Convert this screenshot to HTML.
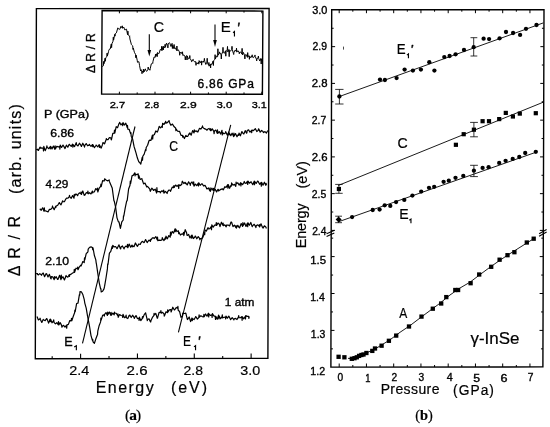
<!DOCTYPE html>
<html><head><meta charset="utf-8"><style>
html,body{margin:0;padding:0;background:#fff;}
body{width:550px;height:427px;overflow:hidden;}
svg{display:block;font-family:"Liberation Sans", sans-serif;filter:grayscale(1);}
svg text{fill:#000;stroke:#000;}
svg line{stroke:#000;}
</style></head><body>
<svg width="550" height="427" viewBox="0 0 550 427">
<path d="M36.4,8.6 L269.1,8.5 L267.9,358.4 L35.3,358.7 Z" fill="none" stroke="#000" stroke-width="1.4"/>
<line x1="52.18" y1="358.68" x2="52.18" y2="356.18" stroke-width="1.1"/>
<line x1="80.6" y1="358.64" x2="80.6" y2="353.64" stroke-width="1.1"/>
<line x1="109.02" y1="358.6" x2="109.02" y2="356.1" stroke-width="1.1"/>
<line x1="137.44" y1="358.57" x2="137.44" y2="353.57" stroke-width="1.1"/>
<line x1="165.86" y1="358.53" x2="165.86" y2="356.03" stroke-width="1.1"/>
<line x1="194.28" y1="358.49" x2="194.28" y2="353.49" stroke-width="1.1"/>
<line x1="222.7" y1="358.46" x2="222.7" y2="355.96" stroke-width="1.1"/>
<line x1="251.12" y1="358.42" x2="251.12" y2="353.42" stroke-width="1.1"/>
<line x1="35.96" y1="149.6" x2="38.46" y2="149.6" stroke-width="1"/>
<line x1="35.57" y1="273.6" x2="38.07" y2="273.6" stroke-width="1"/>
<polyline points="37,148.88 38.4,150.48 39.8,147.47 40.1,147.01 40.4,148.23 41.8,147.91 43.2,148.26 43.5,150.84 43.8,146.45 45.2,150.68 46.6,147.49 46.9,145.82 47.2,147.35 48.6,148.59 50,146.92 50.3,149 50.6,146.24 52,148.89 53.4,146.05 54.8,149.29 55.1,145.76 55.4,148.94 56.8,146.31 58.2,146.87 59.6,146.67 59.9,149.05 60.2,145.07 61.6,147.47 63,145.06 64.4,147.42 64.7,148.14 65,148.55 66.4,145.12 67.8,147.21 69.2,144.32 69.5,144.31 69.8,144.78 71.2,146.43 72.6,144.17 72.9,147.14 73.2,144.73 74.6,146.6 76,143.12 76.3,142.75 76.6,144.68 78,145.94 79.4,143.22 80.8,145.09 81.1,146.03 81.4,146.49 82.8,143.2 84.2,146.1 84.5,147.16 84.8,145.48 86.2,143.59 87.6,145.76 89,145.09 89.3,144.42 89.6,144.95 91,146.4 92.4,144.58 92.7,146.71 93,144.8 94.4,147.73 95.8,145.76 96.1,145.06 96.4,145.33 97.8,146.81 99.2,144.51 99.5,147.43 99.8,145.67 101.2,148.1 102.6,144.23 102.9,142.66 103.2,142.69 104.6,143.82 106,139.9 106.3,138.54 106.6,139.51 108,139.71 109.4,137.64 110.8,137.75 111.1,139.3 111.4,139.83 112.8,133.42 114.2,133.18 114.5,130.02 114.8,133.23 116.2,126.63 117.6,127.66 119,123.5 119.3,123.59 119.6,122.4 121,124.95 122.4,123.46 122.7,125.65 123,122.6 124.4,125.06 125.8,123.16 127.2,127.44 127.5,125.46 127.8,129.1 129.2,129.45 130.6,133.58 130.9,132.67 131.2,136.17 132.6,138.9 134,146.16 134.3,147.33 134.6,148.26 136,152.87 137.4,158.06 138.8,161.84 139.1,161.99 139.4,162.16 140.8,164.11 142.2,157.27 142.5,160.08 142.8,156.24 144.2,154.12 145.6,149.38 145.9,150.67 146.2,147.54 147.6,145.21 149,140.72 149.3,140.45 149.6,140.19 151,140.47 152.4,135.12 152.7,139.07 153,135.39 154.4,134.49 155.8,130.95 157.2,132.07 157.5,131.22 157.8,131.05 159.2,126.39 160.6,127.89 162,126 162.3,127.4 162.6,123.32 164,124.42 165.4,122.08 165.7,121.32 166,123.05 167.4,122.68 168.8,120.98 169.1,120.71 169.4,122.13 170.8,125.21 172.2,124.2 172.5,124.12 172.8,124.64 174.2,126.8 175.6,127.93 175.9,130.72 176.2,129.04 177.6,131.25 179,131.31 179.3,131.44 179.6,131.46 181,135.41 182.4,135.44 182.7,137.12 183,135.75 184.4,138.51 185.8,135.54 186.1,135.44 186.4,136.51 187.8,136.34 189.2,133.6 189.5,134.19 189.8,132.9 191.2,135.18 192.6,130.55 194,132.89 194.3,129.87 194.6,131.71 196,130.83 197.4,131.98 197.7,131.1 198,131.89 199.4,128.38 200.8,129.06 202.2,127.13 202.5,125.8 202.8,127.32 204.2,128.69 205.6,129.05 207,130.22 207.3,129.89 207.6,129.24 209,128.43 210.4,130.5 210.7,128.55 211,130.57 212.4,128.89 213.8,131.49 214.1,133.6 214.4,131.06 215.8,130.08 217.2,133.14 217.5,129.81 217.8,133.47 219.2,131.52 220.6,134.06 222,130.29 222.3,134.98 222.6,132.53 224,133.87 225.4,132.89 225.7,131.63 226,132.61 227.4,135.15 228.8,131.89 229.1,134.85 229.4,133.26 230.8,135.64 232.2,133.16 233.6,136.63 233.9,133.04 234.2,135.99 235.6,133.62 237,136.81 238.4,134.35 238.7,135.34 239,133.06 240.4,135.76 241.8,131.72 242.1,131.69 242.4,132.66 243.8,133.97 245.2,130.66 246.6,133.17 246.9,132.64 247.2,130.51 248.6,129.84 250,132.23 251.4,130.51 251.7,132.7 252,130.04 253.4,130.62 254.8,129.31 255.1,128.99 255.4,128.69 256.8,131.52 258.2,130.39 258.5,128.85 258.8,128.98 260.2,132.14 261.6,130.5 263,131.47 263.3,132.26 263.6,132.64 265,131.58 266.4,133.06 267.8,130.5" fill="none" stroke="#000" stroke-width="1.2" stroke-linejoin="round"/>
<polyline points="39.8,208.74 41.2,210.28 42.6,207.79 44,211.2 44.3,207.86 44.6,210.56 46,211.03 47.4,211.66 47.7,211.61 48,211.97 49.4,209.41 50.8,209.38 52.2,207.77 52.5,205.98 52.8,206.94 54.2,209.72 55.6,206.37 55.9,207.36 56.2,205.87 57.6,205.45 59,203.04 59.3,202.55 59.6,203.24 61,204.85 62.4,201.59 62.7,200.8 63,201.64 64.4,201.75 65.8,198.9 66.1,198.85 66.4,198.17 67.8,198.25 69.2,196.89 69.5,195.28 69.8,196.83 71.2,198.3 72.6,195.55 74,198.12 74.3,194.28 74.6,195.85 76,193.92 77.4,195.47 77.7,195.69 78,194.43 79.4,192.84 80.8,193.87 81.1,191.97 81.4,194.43 82.8,190.94 84.2,195.36 84.5,194.71 84.8,195.21 86.2,192.67 87.6,193.1 87.9,191.17 88.2,193.8 89.6,192.69 91,193.96 92.4,191.07 92.7,192.95 93,191.99 94.4,191.8 95.8,188.54 97.2,190.07 97.5,188.21 97.8,191.96 99.2,188.05 100.6,186.39 100.9,184.22 101.2,186.7 102.6,180.64 104,181.04 104.3,180.92 104.6,178.82 106,179.91 107.4,180.82 108.8,180.28 109.1,179.85 109.4,181.48 110.8,184.77 112.2,187.95 113.6,198.25 113.9,200.69 114.2,200.96 115.6,207.2 117,217.87 118.4,221.9 118.7,221.88 119,221.92 120.4,228.4 121.8,221.97 123.2,220 123.5,215.87 123.8,216.17 125.2,208.05 126.6,201.37 126.9,200.85 127.2,200.37 128.6,189.04 130,185.23 130.3,181.01 130.6,183.73 132,175.85 133.4,175.14 134.8,172.8 135.1,175.9 135.4,173.89 136.8,174.76 138.2,173.84 138.5,178.21 138.8,175.35 140.2,179.46 141.6,178.79 141.9,178.55 142.2,179.76 143.6,183.9 145,183.05 146.4,186.13 146.7,186.98 147,186.36 148.4,187.29 149.8,189.09 150.1,190.81 150.4,191.29 151.8,188.13 153.2,189.74 153.5,190.41 153.8,190.28 155.2,189.16 156.6,193.01 156.9,187.71 157.2,191.65 158.6,191.56 160,191.58 160.3,192.87 160.6,192.17 162,190.77 163.4,191.96 163.7,190.08 164,193.23 165.4,191.4 166.8,192.83 167.1,193.53 167.4,192.17 168.8,190 170.2,190.41 170.5,191.32 170.8,190.64 172.2,187.16 173.6,187.68 173.9,185.61 174.2,187.49 175.6,185.03 177,186.38 178.4,184.96 178.7,188.34 179,184.86 180.4,185.52 181.8,184.24 182.1,181.71 182.4,181.25 183.8,183.55 185.2,182.32 185.5,183.65 185.8,183.06 187.2,184.96 188.6,181.84 190,183.97 190.3,185.36 190.6,183.34 192,182.01 193.4,184.81 193.7,181.79 194,186.04 195.4,184.02 196.8,185.64 198.2,183.21 198.5,185.89 198.8,182.82 200.2,185.32 201.6,183.81 201.9,183.91 202.2,183.93 203.6,186.04 205,185.39 206.4,187.81 206.7,188.77 207,188.91 208.4,187.94 209.8,190.86 210.1,187.82 210.4,191.29 211.8,188.13 213.2,190.49 213.5,188.38 213.8,190.38 215.2,189.42 216.6,191.88 218,189.32 218.3,189.28 218.6,190.91 220,189.87 221.4,189.11 222.8,188.83 223.1,189.85 223.4,189.76 224.8,186.73 226.2,187.34 227.6,184.71 227.9,188.09 228.2,184.56 229.6,188.28 231,185.3 231.3,186.11 231.6,182.96 233,185.15 234.4,184.31 235.8,186.33 236.1,182.02 236.4,183.84 237.8,182.85 239.2,185.09 240.6,182.68 240.9,185.88 241.2,183.17 242.6,184.66 244,182.3 244.3,181.46 244.6,182.91 246,183.32 247.4,181.3 247.7,184.35 248,181.14 249.4,183.16 250.8,182.08 251.1,181.79 251.4,182.37 252.8,184.72 254.2,181.1 254.5,184.67 254.8,181.62 256.2,183.46 257.6,181.04 257.9,181.23 258.2,181.54 259.6,184.31 261,182.52 261.3,186.08 261.6,182.34 263,185.16 264.4,182.25 265.8,185.34 266.1,183.3 266.4,185.21" fill="none" stroke="#000" stroke-width="1.2" stroke-linejoin="round"/>
<polyline points="37,273.81 38.4,274.92 39.8,273.61 41.2,274.74 41.5,275.27 41.8,274.43 43.2,273.02 44.6,276.7 46,273.72 46.3,274.02 46.6,273.62 48,276.95 49.4,274.33 50.8,278.52 51.1,278.78 51.4,276.67 52.8,276.92 54.2,279.74 54.5,276.57 54.8,278.5 56.2,276.72 57.6,279.5 57.9,279.52 58.2,278.74 59.6,275.27 61,279.74 61.3,275.04 61.6,278.32 63,276.77 64.4,279.97 65.8,276.54 66.1,275.47 66.4,276.36 67.8,277.23 69.2,274.67 69.5,276.44 69.8,274.72 71.2,274.13 72.6,272.95 74,272.53 74.3,269.36 74.6,272.43 76,268.17 77.4,268.82 77.7,267.01 78,269.62 79.4,266.84 80.8,265.17 81.1,265.95 81.4,265.34 82.8,261.53 84.2,262.65 84.5,257.95 84.8,259.96 86.2,253.59 87.6,252.2 87.9,251.86 88.2,249.15 89.6,247.24 91,246.92 92.4,247.49 92.7,249.66 93,247.74 94.4,255.54 95.8,259.86 96.1,262.26 96.4,263.76 97.8,273.38 99.2,282.54 100.6,288.93 100.9,288.69 101.2,292 102.6,291.29 104,288.86 104.3,287.58 104.6,286.21 106,277.98 107.4,268.89 107.7,263.93 108,264.48 109.4,253.07 110.8,251.45 112.2,246.25 112.5,248.31 112.8,245.4 114.2,247.01 115.6,246.49 117,248.74 117.3,248.36 117.6,247.45 119,244.89 120.4,248.83 120.7,248.82 121,246.95 122.4,245.94 123.8,248.47 124.1,248.8 124.4,247.61 125.8,246.11 127.2,247.06 127.5,244.4 127.8,247.72 129.2,244.01 130.6,247.2 132,245.03 132.3,246.86 132.6,245.8 134,246.7 135.4,242.98 135.7,243.43 136,244.2 137.4,246.35 138.8,243.96 140.2,244.49 140.5,244.09 140.8,243.05 142.2,241.27 143.6,242.26 143.9,242.63 144.2,242.53 145.6,239.5 147,242.23 147.3,242.64 147.6,241.85 149,240.04 150.4,241.4 150.7,239.23 151,239.88 152.4,237.86 153.8,237.8 154.1,238.59 154.4,238.32 155.8,236.62 157.2,239.67 157.5,237.06 157.8,240.66 159.2,240.19 160.6,240.31 162,239.89 162.3,237.57 162.6,238.46 164,240.55 165.4,237.41 165.7,239.25 166,236.22 167.4,238.75 168.8,235.61 170.2,237.2 170.5,232.02 170.8,235.57 172.2,231.47 173.6,233.15 175,228.94 175.3,231.65 175.6,229.05 177,231.59 178.4,230.82 178.7,233.73 179,232.38 180.4,235.03 181.8,233.86 183.2,234.07 183.5,232.39 183.8,235.53 185.2,229.64 186.6,232.82 186.9,234.67 187.2,235.48 188.6,234.41 190,237.95 191.4,235.46 191.7,238.17 192,234.99 193.4,238.54 194.8,237.08 195.1,236.1 195.4,236.07 196.8,238.75 198.2,236.56 199.6,238.41 199.9,239.99 200.2,238.54 201.6,238.75 203,237.18 204.4,232.66 204.7,234.76 205,230.07 206.4,231.09 207.8,227.9 208.1,227.62 208.4,228.85 209.8,228.66 211.2,226.68 211.5,229.7 211.8,224.76 213.2,227.18 214.6,225.2 216,225.14 216.3,222.65 216.6,225.34 218,223.08 219.4,224.17 219.7,225.49 220,226.6 221.4,222.21 222.8,225.19 223.1,223.04 223.4,225.64 224.8,224.8 226.2,226.84 226.5,225.11 226.8,225 228.2,225.09 229.6,225.93 231,222.02 231.3,222.33 231.6,222.08 233,226.67 234.4,225.16 235.8,227.46 236.1,225.65 236.4,228.1 237.8,225.35 239.2,227.64 239.5,227.86 239.8,227.25 241.2,223.5 242.6,226.41 242.9,222.52 243.2,225.55 244.6,222.94 246,226.46 247.4,223.16 247.7,226.66 248,222.76 249.4,225.2 250.8,222.46 252.2,226.67 252.5,225.9 252.8,225.68 254.2,224.27 255.6,226.67 255.9,227.55 256.2,225.81 257.6,224.87 259,226.01 259.3,224.6 259.6,226.96 261,223.82 262.4,227.16 262.7,227.08 263,228.11 264.4,225.82 265.8,226.98 266.1,227.6 266.4,228.53" fill="none" stroke="#000" stroke-width="1.2" stroke-linejoin="round"/>
<polyline points="37,316.6 38.4,319.96 39.8,319.08 40.1,318.24 40.4,319.39 41.8,322.42 43.2,319.41 43.5,319.64 43.8,320.07 45.2,320.66 46.6,318.71 46.9,318.65 47.2,319.38 48.6,323.15 50,319.31 50.3,321.68 50.6,319.17 52,322.8 53.4,320.89 53.7,319.82 54,322.41 55.4,323.86 56.8,322.73 58.2,324.62 58.5,321.67 58.8,324.89 60.2,322.65 61.6,325.36 61.9,327.18 62.2,326.43 63.6,325.31 65,327.08 66.4,325.26 66.7,328.09 67,324.84 68.4,324.37 69.8,320.55 71.2,320.94 71.5,318.41 71.8,320.77 73.2,316.53 74.6,312.73 74.9,310.05 75.2,311.71 76.6,303.54 78,303.1 79.4,294.54 79.7,295.18 80,291.66 81.4,291.78 82.8,294.43 84.2,299.41 84.5,301.24 84.8,303.12 86.2,308.05 87.6,316.47 87.9,317.81 88.2,319.42 89.6,326.78 91,335.58 92.4,340.36 92.7,339.34 93,341.77 94.4,343.29 95.8,339.07 97.2,335.21 97.5,334.72 97.8,331.2 99.2,325.41 100.6,321.88 100.9,318.1 101.2,320.1 102.6,315.38 104,314.68 104.3,316.08 104.6,314.37 106,312.59 107.4,315.4 107.7,312.05 108,314.36 109.4,312.08 110.8,315.33 111.1,312.26 111.4,315.04 112.8,313.06 114.2,314.75 114.5,312.19 114.8,313.12 116.2,313.27 117.6,315.5 117.9,313.89 118.2,317.28 119.6,314.52 121,315.47 122.4,315.76 122.7,317.5 123,314.33 124.4,317.66 125.8,316.7 126.1,315.18 126.4,317.81 127.8,318.56 129.2,315.33 129.5,315.93 129.8,315.05 131.2,317.51 132.6,315.2 134,317.3 134.3,318.45 134.6,317.57 136,315.55 137.4,318.54 138.8,318.27 139.1,320.48 139.4,317.2 140.8,320.6 142.2,318.71 142.5,316.71 142.8,318.13 144.2,314.62 145.6,312.83 147,318.9 147.3,320.55 147.6,319.49 149,318.84 150.4,321.85 150.7,321.99 151,320.42 152.4,317.42 153.8,315.72 154.1,313.3 154.4,314.84 155.8,313.34 157.2,318.14 157.5,318.25 157.8,316.94 159.2,312.24 160.6,312.45 160.9,310.49 161.2,313.18 162.6,312.28 164,313.98 164.3,316.06 164.6,315.43 166,311.78 167.4,312.66 167.7,309.94 168,312.05 169.4,309.86 170.8,309.49 171.1,312.01 171.4,311.21 172.8,307.21 174.2,309.74 174.5,309.98 174.8,309.79 176.2,307.45 177.6,308.33 177.9,306.27 178.2,310.29 179.6,311.54 181,317.38 182.4,316.19 182.7,313.64 183,313.16 184.4,313.51 185.8,313.08 187.2,318.91 187.5,319.54 187.8,319.14 189.2,316.98 190.6,321.56 192,317.98 192.3,320.63 192.6,318.67 194,319.62 195.4,317.27 195.7,316.59 196,316.9 197.4,319.05 198.8,317.66 199.1,314.78 199.4,317.13 200.8,315.78 202.2,316.6 203.6,316.92 203.9,314.34 204.2,316.74 205.6,313.95 207,316.2 208.4,313.22 208.7,316.9 209,313.93 210.4,315.44 211.8,314.69 212.1,317.41 212.4,313.53 213.8,315.9 215.2,316.38 215.5,319.38 215.8,316.23 217.2,319.32 218.6,315.1 218.9,318.82 219.2,316.11 220.6,318.72 222,316.71 222.3,314.85 222.6,317.85 224,317.31 225.4,317.01 225.7,318.95 226,316.18 227.4,318.18 228.8,316.14 230.2,318.69 230.5,319.68 230.8,319.42 232.2,317.69 233.6,319.34 233.9,319.92 234.2,318.74 235.6,318.46 237,319.5 238.4,317.17 238.7,315.66 239,317.57 240.4,317.78 241.8,316.59 242.1,320.32 242.4,316.97 243.8,318.8 245.2,316.44 245.5,318.84 245.8,315.53 247.2,316.45 248.6,316.45 248.9,318.41 249.2,316.41" fill="none" stroke="#000" stroke-width="1.2" stroke-linejoin="round"/>
<line x1="135" y1="126.5" x2="82.5" y2="343.3" stroke-width="1.1"/>
<line x1="230.7" y1="124.8" x2="178.4" y2="332.4" stroke-width="1.1"/>
<path d="M102.1,10.5 L262.9,11.1 L262.4,94.3 L101.6,94.1 Z" fill="#fff" stroke="#000" stroke-width="1.4"/>
<line x1="119.4" y1="94.2" x2="119.4" y2="91.7" stroke-width="1"/>
<line x1="119.4" y1="10.8" x2="119.4" y2="13.3" stroke-width="1"/>
<line x1="137.2" y1="94.2" x2="137.2" y2="92.4" stroke-width="1"/>
<line x1="137.2" y1="10.8" x2="137.2" y2="12.6" stroke-width="1"/>
<line x1="155" y1="94.2" x2="155" y2="91.7" stroke-width="1"/>
<line x1="155" y1="10.8" x2="155" y2="13.3" stroke-width="1"/>
<line x1="172.8" y1="94.2" x2="172.8" y2="92.4" stroke-width="1"/>
<line x1="172.8" y1="10.8" x2="172.8" y2="12.6" stroke-width="1"/>
<line x1="190.6" y1="94.2" x2="190.6" y2="91.7" stroke-width="1"/>
<line x1="190.6" y1="10.8" x2="190.6" y2="13.3" stroke-width="1"/>
<line x1="208.4" y1="94.2" x2="208.4" y2="92.4" stroke-width="1"/>
<line x1="208.4" y1="10.8" x2="208.4" y2="12.6" stroke-width="1"/>
<line x1="226.2" y1="94.2" x2="226.2" y2="91.7" stroke-width="1"/>
<line x1="226.2" y1="10.8" x2="226.2" y2="13.3" stroke-width="1"/>
<line x1="244" y1="94.2" x2="244" y2="92.4" stroke-width="1"/>
<line x1="244" y1="10.8" x2="244" y2="12.6" stroke-width="1"/>
<line x1="261.8" y1="94.2" x2="261.8" y2="91.7" stroke-width="1"/>
<line x1="261.8" y1="10.8" x2="261.8" y2="13.3" stroke-width="1"/>
<polyline points="102.3,66.55 103.4,65.77 103.7,61.36 104,63.73 105.1,58.12 105.4,61.28 105.7,57.74 106.8,56.85 107.1,53.13 107.4,55.96 108.5,51.69 108.8,50.24 109.1,49.5 110.2,48.98 111.3,43.96 111.6,47.63 111.9,43.79 113,41.25 113.3,37.16 113.6,40.1 114.7,34.41 115,36.16 115.3,33.61 116.4,32.86 117.5,29 117.8,27.85 118.1,28.38 119.2,29.39 119.5,29.32 119.8,29.33 120.9,26.34 122,27.84 122.3,25.82 122.6,28.32 123.7,27.04 124.8,29.92 125.1,30.12 125.4,29.48 126.5,29.13 127.6,34.72 127.9,31.12 128.2,34.96 129.3,36.06 129.6,35.76 129.9,38.99 131,42.99 131.3,44.32 131.6,44.9 132.7,45.85 133,49.48 133.3,48.1 134.4,52.31 135.5,54.3 135.8,57.74 136.1,55.1 137.2,60.19 137.5,62.35 137.8,62.07 138.9,61.66 139.2,63.21 139.5,65.32 140.6,70.96 141.7,69.67 142,73.7 142.3,71.08 143.4,72.51 143.7,69.03 144,71.96 145.1,69.55 145.4,68.85 145.7,70.42 146.8,71.32 147.9,69.36 148.2,67 148.5,69.22 149.6,69.37 149.9,70.27 150.2,68.77 151.3,63.89 152.4,63.07 152.7,63.48 153,61.29 154.1,56.99 155.2,57.33 155.5,54.23 155.8,56.35 156.9,53.64 157.2,56.66 157.5,52.5 158.6,53.68 158.9,53.65 159.2,52.94 160.3,49.4 161.4,50.16 161.7,46.29 162,50.62 163.1,46.38 163.4,49.92 163.7,46.49 164.8,47.81 165.1,44.31 165.4,47.26 166.5,43.09 167.6,45.51 167.9,47.92 168.2,43.88 169.3,42.64 169.6,42.83 169.9,43.41 171,46.56 172.1,43.36 172.4,48.5 172.7,45.3 173.8,48.61 174.1,44.49 174.4,48.33 175.5,47.97 176.6,50.54 176.9,46.03 177.2,50.48 178.3,49.78 179.4,51.84 179.7,55.26 180,53.1 181.1,52.1 182.2,53.97 182.5,51.8 182.8,55.48 183.9,54.87 185,56.78 185.3,59.95 185.6,56.73 186.7,55.49 187,60.01 187.3,56.04 188.4,58.86 189.5,58.18 189.8,55.54 190.1,58.85 191.2,60.01 191.5,61.69 191.8,61.66 192.9,59.41 193.2,59.33 193.5,60.6 194.6,61.85 195.7,61.56 196,65.35 196.3,62.65 197.4,63.88 198.5,62.03 198.8,64.17 199.1,60.59 200.2,62.86 201.3,60.89 201.6,65.13 201.9,61.14 203,62.44 204.1,60.41 204.4,58.36 204.7,61.18 205.8,64.48 206.9,62.17 207.2,58.28 207.5,62.9 208.6,65.31 208.9,62.46 209.2,66.2 210.3,64.16 210.6,67.97 210.9,63.93 212,64.4 213.1,60.96 213.4,65.49 213.7,60.5 214.8,59.55 215.1,54.68 215.4,58.88 216.5,56.02 217.6,56.74 217.9,48.77 218.2,55.15 219.3,53.27 219.6,51.88 219.9,53.67 221,53.77 221.3,59 221.6,54.42 222.7,51.85 223,47.35 223.3,52.45 224.4,53.26 225.5,50.78 225.8,56.19 226.1,51.1 227.2,50.09 227.5,46.44 227.8,52.04 228.9,49.48 229.2,56.63 229.5,50.44 230.6,51.12 231.7,49.39 232,46.32 232.3,49.56 233.4,53.37 233.7,54.49 234,52.18 235.1,50.13 236.2,51.36 236.5,48.14 236.8,52.13 237.9,50.66 239,52.48 239.3,53.75 239.6,52.12 240.7,52.01 241.8,53.86 242.1,48.38 242.4,54.93 243.5,52.46 244.6,55.93 244.9,58.95 245.2,54.87 246.3,54.7 247.4,57.39 247.7,52.62 248,56.6 249.1,55.67 249.4,59.32 249.7,56.23 250.8,57.79 251.9,55.58 252.2,54.8 252.5,57.16 253.6,57.63 254.7,55.7 255,54.95 255.3,56.66 256.4,59.1 256.7,60.87 257,58.59 258.1,57.93 258.4,56 258.7,58.4 259.8,61.04 260.9,58.39 261.2,64.02 261.5,58.9" fill="none" stroke="#000" stroke-width="1" stroke-linejoin="round"/>
<line x1="149.3" y1="34.3" x2="149.3" y2="51" stroke-width="1.1"/>
<path d="M147.5,50 L151.1,50 L149.3,56.5 Z" fill="#000"/>
<line x1="215" y1="24.4" x2="215" y2="41" stroke-width="1.1"/>
<path d="M213.2,40 L216.8,40 L215,47 Z" fill="#000"/>
<path d="M331.7,9.6 L544,9.8 L542.9,366.9 L330.9,367.1 Z" fill="none" stroke="#000" stroke-width="1.4"/>
<line x1="339.2" y1="367" x2="339.2" y2="363.5" stroke-width="1"/>
<line x1="339.2" y1="9.7" x2="339.2" y2="13.2" stroke-width="1"/>
<line x1="352.82" y1="367" x2="352.82" y2="365" stroke-width="1"/>
<line x1="352.82" y1="9.7" x2="352.82" y2="11.7" stroke-width="1"/>
<line x1="366.45" y1="367" x2="366.45" y2="363.5" stroke-width="1"/>
<line x1="366.45" y1="9.7" x2="366.45" y2="13.2" stroke-width="1"/>
<line x1="380.07" y1="367" x2="380.07" y2="365" stroke-width="1"/>
<line x1="380.07" y1="9.7" x2="380.07" y2="11.7" stroke-width="1"/>
<line x1="393.7" y1="367" x2="393.7" y2="363.5" stroke-width="1"/>
<line x1="393.7" y1="9.7" x2="393.7" y2="13.2" stroke-width="1"/>
<line x1="407.32" y1="367" x2="407.32" y2="365" stroke-width="1"/>
<line x1="407.32" y1="9.7" x2="407.32" y2="11.7" stroke-width="1"/>
<line x1="420.95" y1="367" x2="420.95" y2="363.5" stroke-width="1"/>
<line x1="420.95" y1="9.7" x2="420.95" y2="13.2" stroke-width="1"/>
<line x1="434.57" y1="367" x2="434.57" y2="365" stroke-width="1"/>
<line x1="434.57" y1="9.7" x2="434.57" y2="11.7" stroke-width="1"/>
<line x1="448.2" y1="367" x2="448.2" y2="363.5" stroke-width="1"/>
<line x1="448.2" y1="9.7" x2="448.2" y2="13.2" stroke-width="1"/>
<line x1="461.82" y1="367" x2="461.82" y2="365" stroke-width="1"/>
<line x1="461.82" y1="9.7" x2="461.82" y2="11.7" stroke-width="1"/>
<line x1="475.45" y1="367" x2="475.45" y2="363.5" stroke-width="1"/>
<line x1="475.45" y1="9.7" x2="475.45" y2="13.2" stroke-width="1"/>
<line x1="489.07" y1="367" x2="489.07" y2="365" stroke-width="1"/>
<line x1="489.07" y1="9.7" x2="489.07" y2="11.7" stroke-width="1"/>
<line x1="502.7" y1="367" x2="502.7" y2="363.5" stroke-width="1"/>
<line x1="502.7" y1="9.7" x2="502.7" y2="13.2" stroke-width="1"/>
<line x1="516.33" y1="367" x2="516.33" y2="365" stroke-width="1"/>
<line x1="516.33" y1="9.7" x2="516.33" y2="11.7" stroke-width="1"/>
<line x1="529.95" y1="367" x2="529.95" y2="363.5" stroke-width="1"/>
<line x1="529.95" y1="9.7" x2="529.95" y2="13.2" stroke-width="1"/>
<line x1="331.66" y1="28.27" x2="333.66" y2="28.27" stroke-width="1"/>
<line x1="543.94" y1="28.27" x2="541.94" y2="28.27" stroke-width="1"/>
<line x1="331.62" y1="46.65" x2="335.12" y2="46.65" stroke-width="1"/>
<line x1="543.89" y1="46.65" x2="540.39" y2="46.65" stroke-width="1"/>
<line x1="331.58" y1="65.02" x2="333.58" y2="65.02" stroke-width="1"/>
<line x1="543.83" y1="65.02" x2="541.83" y2="65.02" stroke-width="1"/>
<line x1="331.53" y1="83.4" x2="335.03" y2="83.4" stroke-width="1"/>
<line x1="543.77" y1="83.4" x2="540.27" y2="83.4" stroke-width="1"/>
<line x1="331.49" y1="101.78" x2="333.49" y2="101.78" stroke-width="1"/>
<line x1="543.72" y1="101.78" x2="541.72" y2="101.78" stroke-width="1"/>
<line x1="331.45" y1="120.15" x2="334.95" y2="120.15" stroke-width="1"/>
<line x1="543.66" y1="120.15" x2="540.16" y2="120.15" stroke-width="1"/>
<line x1="331.41" y1="138.52" x2="333.41" y2="138.52" stroke-width="1"/>
<line x1="543.6" y1="138.52" x2="541.6" y2="138.52" stroke-width="1"/>
<line x1="331.37" y1="156.9" x2="334.87" y2="156.9" stroke-width="1"/>
<line x1="543.55" y1="156.9" x2="540.05" y2="156.9" stroke-width="1"/>
<line x1="331.33" y1="175.27" x2="333.33" y2="175.27" stroke-width="1"/>
<line x1="543.49" y1="175.27" x2="541.49" y2="175.27" stroke-width="1"/>
<line x1="331.29" y1="193.65" x2="334.79" y2="193.65" stroke-width="1"/>
<line x1="543.43" y1="193.65" x2="539.93" y2="193.65" stroke-width="1"/>
<line x1="331.25" y1="212.02" x2="333.25" y2="212.02" stroke-width="1"/>
<line x1="543.38" y1="212.02" x2="541.38" y2="212.02" stroke-width="1"/>
<line x1="331.21" y1="230.4" x2="334.71" y2="230.4" stroke-width="1"/>
<line x1="543.32" y1="230.4" x2="539.82" y2="230.4" stroke-width="1"/>
<line x1="330.94" y1="348.85" x2="332.94" y2="348.85" stroke-width="1"/>
<line x1="542.96" y1="348.85" x2="540.96" y2="348.85" stroke-width="1"/>
<line x1="330.98" y1="330.4" x2="334.48" y2="330.4" stroke-width="1"/>
<line x1="543.01" y1="330.4" x2="539.51" y2="330.4" stroke-width="1"/>
<line x1="331.02" y1="311.95" x2="333.02" y2="311.95" stroke-width="1"/>
<line x1="543.07" y1="311.95" x2="541.07" y2="311.95" stroke-width="1"/>
<line x1="331.06" y1="293.5" x2="334.56" y2="293.5" stroke-width="1"/>
<line x1="543.13" y1="293.5" x2="539.63" y2="293.5" stroke-width="1"/>
<line x1="331.11" y1="275.05" x2="333.11" y2="275.05" stroke-width="1"/>
<line x1="543.18" y1="275.05" x2="541.18" y2="275.05" stroke-width="1"/>
<line x1="331.15" y1="256.6" x2="334.65" y2="256.6" stroke-width="1"/>
<line x1="543.24" y1="256.6" x2="539.74" y2="256.6" stroke-width="1"/>
<line x1="331.19" y1="238.15" x2="333.19" y2="238.15" stroke-width="1"/>
<line x1="543.3" y1="238.15" x2="541.3" y2="238.15" stroke-width="1"/>
<line x1="326.6" y1="233.7" x2="334.6" y2="230.3" stroke-width="1.1"/>
<line x1="326.6" y1="236.4" x2="334.3" y2="233.1" stroke-width="1.1"/>
<line x1="539.1" y1="233.7" x2="546.6" y2="229.5" stroke-width="1.1"/>
<line x1="539.1" y1="236.3" x2="546.6" y2="232" stroke-width="1.1"/>
<rect x="343" y="46.6" width="1" height="3" fill="#000" opacity="0.7"/>
<line x1="339.4" y1="96.5" x2="543.3" y2="22.9" stroke-width="0.9"/>
<line x1="339.4" y1="89.4" x2="339.4" y2="104" stroke-width="0.8"/>
<line x1="335.2" y1="89.4" x2="343.5" y2="89.4" stroke-width="0.8"/>
<line x1="335.2" y1="104" x2="343.5" y2="104" stroke-width="0.8"/>
<line x1="473.7" y1="37.7" x2="473.7" y2="56" stroke-width="0.8"/>
<line x1="470.5" y1="37.7" x2="477.3" y2="37.7" stroke-width="0.8"/>
<line x1="470.5" y1="56" x2="477.3" y2="56" stroke-width="0.8"/>
<circle cx="339.4" cy="96.5" r="2.15" fill="#000"/>
<circle cx="380" cy="79.6" r="2.15" fill="#000"/>
<circle cx="384.9" cy="80" r="2.15" fill="#000"/>
<circle cx="396.6" cy="78.1" r="2.15" fill="#000"/>
<circle cx="404.6" cy="69.6" r="2.15" fill="#000"/>
<circle cx="412.9" cy="70.6" r="2.15" fill="#000"/>
<circle cx="420.9" cy="69.6" r="2.15" fill="#000"/>
<circle cx="429.3" cy="62.2" r="2.15" fill="#000"/>
<circle cx="434.4" cy="70.6" r="2.15" fill="#000"/>
<circle cx="444.3" cy="57.1" r="2.15" fill="#000"/>
<circle cx="449.6" cy="56" r="2.15" fill="#000"/>
<circle cx="455.6" cy="54.3" r="2.15" fill="#000"/>
<circle cx="464" cy="50" r="2.15" fill="#000"/>
<circle cx="473.7" cy="47.2" r="2.15" fill="#000"/>
<circle cx="483.6" cy="38.7" r="2.15" fill="#000"/>
<circle cx="489.1" cy="39.1" r="2.15" fill="#000"/>
<circle cx="499.6" cy="38.3" r="2.15" fill="#000"/>
<circle cx="506" cy="32" r="2.15" fill="#000"/>
<circle cx="513.1" cy="33" r="2.15" fill="#000"/>
<circle cx="520.1" cy="34.9" r="2.15" fill="#000"/>
<circle cx="526" cy="28.8" r="2.15" fill="#000"/>
<circle cx="536.5" cy="25" r="2.15" fill="#000"/>
<line x1="338.2" y1="185.5" x2="543" y2="102.3" stroke-width="0.9"/>
<line x1="338.9" y1="184.4" x2="338.9" y2="193.3" stroke-width="0.8"/>
<line x1="335.2" y1="184.4" x2="342.7" y2="184.4" stroke-width="0.8"/>
<line x1="335.2" y1="193.3" x2="342.7" y2="193.3" stroke-width="0.8"/>
<line x1="473.9" y1="122.4" x2="473.9" y2="136.8" stroke-width="0.8"/>
<line x1="470.1" y1="122.4" x2="477.9" y2="122.4" stroke-width="0.8"/>
<line x1="470.1" y1="136.8" x2="477.9" y2="136.8" stroke-width="0.8"/>
<rect x="336.8" y="186.9" width="4.2" height="4.2" fill="#000"/>
<rect x="453.8" y="142.7" width="4.2" height="4.2" fill="#000"/>
<rect x="461.6" y="132.1" width="4.2" height="4.2" fill="#000"/>
<rect x="471.8" y="127.6" width="4.2" height="4.2" fill="#000"/>
<rect x="480.5" y="119.1" width="4.2" height="4.2" fill="#000"/>
<rect x="486.9" y="119.1" width="4.2" height="4.2" fill="#000"/>
<rect x="497.1" y="117" width="4.2" height="4.2" fill="#000"/>
<rect x="503.7" y="110.8" width="4.2" height="4.2" fill="#000"/>
<rect x="510.8" y="114.4" width="4.2" height="4.2" fill="#000"/>
<rect x="517.7" y="111.5" width="4.2" height="4.2" fill="#000"/>
<rect x="533.7" y="111.1" width="4.2" height="4.2" fill="#000"/>
<line x1="338.4" y1="221.8" x2="535.8" y2="152.3" stroke-width="0.9"/>
<line x1="338.4" y1="216.2" x2="338.4" y2="222.7" stroke-width="0.8"/>
<line x1="335.2" y1="216.2" x2="342" y2="216.2" stroke-width="0.8"/>
<line x1="335.2" y1="222.7" x2="342" y2="222.7" stroke-width="0.8"/>
<line x1="473.9" y1="165.3" x2="473.9" y2="176.6" stroke-width="0.8"/>
<line x1="470.1" y1="165.3" x2="477.9" y2="165.3" stroke-width="0.8"/>
<line x1="470.1" y1="176.6" x2="477.9" y2="176.6" stroke-width="0.8"/>
<path d="M338.6,216.6 L341.6,219.5 L338.6,222.4 L335.6,219.5 Z" fill="#000"/>
<circle cx="352.1" cy="217.1" r="2.15" fill="#000"/>
<circle cx="372.7" cy="210" r="2.15" fill="#000"/>
<circle cx="379.6" cy="209.6" r="2.15" fill="#000"/>
<circle cx="384.7" cy="205.3" r="2.15" fill="#000"/>
<circle cx="390.3" cy="205.9" r="2.15" fill="#000"/>
<circle cx="396.1" cy="202.1" r="2.15" fill="#000"/>
<circle cx="404.3" cy="199.9" r="2.15" fill="#000"/>
<circle cx="412.4" cy="195.6" r="2.15" fill="#000"/>
<circle cx="421.2" cy="191.6" r="2.15" fill="#000"/>
<circle cx="429" cy="187.8" r="2.15" fill="#000"/>
<circle cx="434.2" cy="186.8" r="2.15" fill="#000"/>
<circle cx="443.6" cy="181.8" r="2.15" fill="#000"/>
<circle cx="448.8" cy="180.7" r="2.15" fill="#000"/>
<circle cx="455.5" cy="177.8" r="2.15" fill="#000"/>
<circle cx="463.3" cy="175.9" r="2.15" fill="#000"/>
<circle cx="473.9" cy="170.7" r="2.15" fill="#000"/>
<circle cx="482.6" cy="167.9" r="2.15" fill="#000"/>
<circle cx="488.6" cy="167.2" r="2.15" fill="#000"/>
<circle cx="499.2" cy="162.9" r="2.15" fill="#000"/>
<circle cx="505.6" cy="160.8" r="2.15" fill="#000"/>
<circle cx="512.7" cy="158.9" r="2.15" fill="#000"/>
<circle cx="519.3" cy="157" r="2.15" fill="#000"/>
<circle cx="525.2" cy="153" r="2.15" fill="#000"/>
<circle cx="535.8" cy="151.8" r="2.15" fill="#000"/>
<polyline points="348,358.3 352,358.9 356,357.6 360,355.6 366,353 372,350.5 378,347.2 384,343.5 390,339.8 400,332.3 410,325.6 420,318 430,310.6 440,303.2 450,295 460,288 470,282.2 480,274.6 490,267.2 500,260.2 510,253.6 520,247.3 533.7,238.7" fill="none" stroke="#000" stroke-width="0.9"/>
<rect x="336.45" y="354.65" width="4.3" height="4.3" fill="#000"/>
<rect x="342.25" y="355.15" width="4.3" height="4.3" fill="#000"/>
<rect x="349.65" y="356.65" width="4.3" height="4.3" fill="#000"/>
<rect x="352.35" y="356.05" width="4.3" height="4.3" fill="#000"/>
<rect x="354.65" y="355.15" width="4.3" height="4.3" fill="#000"/>
<rect x="356.95" y="353.75" width="4.3" height="4.3" fill="#000"/>
<rect x="359.25" y="352.85" width="4.3" height="4.3" fill="#000"/>
<rect x="361.35" y="352.35" width="4.3" height="4.3" fill="#000"/>
<rect x="364.25" y="350.85" width="4.3" height="4.3" fill="#000"/>
<rect x="370.15" y="348.75" width="4.3" height="4.3" fill="#000"/>
<rect x="372.85" y="346.35" width="4.3" height="4.3" fill="#000"/>
<rect x="379.45" y="343.55" width="4.3" height="4.3" fill="#000"/>
<rect x="386.75" y="338.65" width="4.3" height="4.3" fill="#000"/>
<rect x="394.05" y="333.45" width="4.3" height="4.3" fill="#000"/>
<rect x="406.85" y="324.35" width="4.3" height="4.3" fill="#000"/>
<rect x="419.35" y="314.45" width="4.3" height="4.3" fill="#000"/>
<rect x="430.65" y="306.55" width="4.3" height="4.3" fill="#000"/>
<rect x="439.05" y="301.35" width="4.3" height="4.3" fill="#000"/>
<rect x="444.15" y="294.95" width="4.3" height="4.3" fill="#000"/>
<rect x="453.15" y="287.85" width="4.3" height="4.3" fill="#000"/>
<rect x="455.95" y="287.85" width="4.3" height="4.3" fill="#000"/>
<rect x="468.45" y="281.05" width="4.3" height="4.3" fill="#000"/>
<rect x="477.05" y="272.35" width="4.3" height="4.3" fill="#000"/>
<rect x="489.05" y="264.65" width="4.3" height="4.3" fill="#000"/>
<rect x="497.45" y="257.55" width="4.3" height="4.3" fill="#000"/>
<rect x="505.35" y="253.05" width="4.3" height="4.3" fill="#000"/>
<rect x="512.25" y="250.05" width="4.3" height="4.3" fill="#000"/>
<rect x="524.65" y="240.35" width="4.3" height="4.3" fill="#000"/>
<rect x="531.55" y="236.55" width="4.3" height="4.3" fill="#000"/>
<text x="69.38" y="374.98" font-size="13.2" textLength="20" lengthAdjust="spacingAndGlyphs" stroke-width="0.2">2.4</text>
<text x="126.55" y="374.98" font-size="13.2" textLength="21" lengthAdjust="spacingAndGlyphs" stroke-width="0.2">2.6</text>
<text x="183.5" y="374.98" font-size="13.2" textLength="19.4" lengthAdjust="spacingAndGlyphs" stroke-width="0.2">2.8</text>
<text x="240.35" y="374.67" font-size="13.2" textLength="20" lengthAdjust="spacingAndGlyphs" stroke-width="0.2">3.0</text>
<text x="95.65" y="393.35" font-size="16" textLength="58" lengthAdjust="spacing" stroke-width="0.2">Energy</text>
<text x="170.9" y="392.85" font-size="16" textLength="36.2" lengthAdjust="spacing" stroke-width="0.2">(eV)</text>
<text x="125.05" y="419.62" font-size="15.37" textLength="16" lengthAdjust="spacing" font-family='"Liberation Serif", serif' stroke-width="0.2">(<tspan font-weight="bold">a</tspan>)</text>
<text x="20.28" y="276.15" font-size="16" textLength="60.2" lengthAdjust="spacing" transform="rotate(-90 20.28 276.15)" stroke-width="0.2">&#916; R / R</text>
<text x="20.52" y="193.95" font-size="16" textLength="89.8" lengthAdjust="spacing" transform="rotate(-90 20.52 193.95)" stroke-width="0.2">(arb. units)</text>
<text x="44.1" y="117.64" font-size="10.5" textLength="45" lengthAdjust="spacingAndGlyphs" stroke-width="0.35">P (GPa)</text>
<text x="50.29" y="137.01" font-size="11.5" textLength="23.8" lengthAdjust="spacingAndGlyphs" stroke-width="0.35">6.86</text>
<text x="45.45" y="188.28" font-size="11" textLength="23" lengthAdjust="spacingAndGlyphs" stroke-width="0.35">4.29</text>
<text x="45.29" y="265.07" font-size="11.5" textLength="23.8" lengthAdjust="spacingAndGlyphs" stroke-width="0.35">2.10</text>
<text x="224.87" y="306.14" font-size="11" textLength="29.6" lengthAdjust="spacingAndGlyphs" stroke-width="0.35">1 atm</text>
<text x="169.24" y="150.61" font-size="14" textLength="8.8" lengthAdjust="spacingAndGlyphs" stroke-width="0.2">C</text>
<text x="64.34" y="345.88" font-size="12.5" textLength="8.4" lengthAdjust="spacingAndGlyphs" stroke-width="0.35">E</text>
<path d="M74.2,347 L76.35,345.8 L76.35,350.2" fill="none" stroke="#000" stroke-width="1.15" stroke-linejoin="miter"/>
<text x="183.1" y="346.33" font-size="13.88" textLength="8" lengthAdjust="spacingAndGlyphs" stroke-width="0.2">E</text>
<path d="M194,346.9 L195.55,345.7 L195.55,350.2" fill="none" stroke="#000" stroke-width="1.15" stroke-linejoin="miter"/>
<text x="109.68" y="107.88" font-size="9.8" textLength="15.5" lengthAdjust="spacingAndGlyphs" stroke-width="0.35">2.7</text>
<text x="144.44" y="108.1" font-size="9.8" textLength="14.8" lengthAdjust="spacingAndGlyphs" stroke-width="0.35">2.8</text>
<text x="179.96" y="107.84" font-size="9.8" textLength="16.8" lengthAdjust="spacingAndGlyphs" stroke-width="0.35">2.9</text>
<text x="216.51" y="107.66" font-size="9.8" textLength="15.9" lengthAdjust="spacingAndGlyphs" stroke-width="0.35">3.0</text>
<text x="251.72" y="107.76" font-size="9.8" textLength="15.1" lengthAdjust="spacingAndGlyphs" stroke-width="0.35">3.1</text>
<text x="153.68" y="32.07" font-size="14.77" textLength="10.3" lengthAdjust="spacingAndGlyphs" stroke-width="0.2">C</text>
<text x="220.75" y="32.15" font-size="13.8" textLength="10" lengthAdjust="spacingAndGlyphs" stroke-width="0.2">E</text>
<path d="M233.1,32.7 L234.45,31.5 L234.45,36.4" fill="none" stroke="#000" stroke-width="1.15" stroke-linejoin="miter"/>
<text x="197.38" y="88.22" font-size="12" textLength="56.5" lengthAdjust="spacing" stroke-width="0.35">6.86 GPa</text>
<text x="95.16" y="73.09" font-size="12" textLength="39.8" lengthAdjust="spacing" transform="rotate(-90 95.16 73.09)" stroke-width="0.35">&#916; R / R</text>
<text x="312.25" y="13.82" font-size="10.4" textLength="15.2" lengthAdjust="spacingAndGlyphs" stroke-width="0.35">3.0</text>
<text x="312.6" y="49.8" font-size="10.4" stroke-width="0.35">2.9</text>
<text x="311.74" y="87.24" font-size="10.4" textLength="15.8" lengthAdjust="spacingAndGlyphs" stroke-width="0.35">2.8</text>
<text x="311.8" y="123.5" font-size="10.4" stroke-width="0.35">2.7</text>
<text x="311.74" y="161.06" font-size="10.4" textLength="15.8" lengthAdjust="spacingAndGlyphs" stroke-width="0.35">2.6</text>
<text x="311.8" y="197.5" font-size="10.4" stroke-width="0.35">2.5</text>
<text x="312.16" y="235.11" font-size="10.4" textLength="14.2" lengthAdjust="spacingAndGlyphs" stroke-width="0.35">2.4</text>
<text x="310.23" y="264.44" font-size="10.4" textLength="15.8" lengthAdjust="spacingAndGlyphs" stroke-width="0.35">1.5</text>
<text x="310.24" y="300.89" font-size="10.4" textLength="14.7" lengthAdjust="spacingAndGlyphs" stroke-width="0.35">1.4</text>
<text x="310.87" y="338.47" font-size="10.4" textLength="14.5" lengthAdjust="spacingAndGlyphs" stroke-width="0.35">1.3</text>
<text x="310.38" y="374.9" font-size="10.4" textLength="14.8" lengthAdjust="spacingAndGlyphs" stroke-width="0.35">1.2</text>
<text x="337.5" y="380.9" font-size="10.2" stroke-width="0.35">0</text>
<text x="365.25" y="381.7" font-size="10.2" textLength="5.2" lengthAdjust="spacingAndGlyphs" stroke-width="0.35">1</text>
<text x="391.5" y="380.9" font-size="10.2" stroke-width="0.35">2</text>
<text x="418.5" y="380.9" font-size="10.2" stroke-width="0.35">3</text>
<text x="446.8" y="381.12" font-size="10.2" textLength="6" lengthAdjust="spacingAndGlyphs" stroke-width="0.35">4</text>
<text x="473.29" y="381.71" font-size="10.2" textLength="6.8" lengthAdjust="spacingAndGlyphs" stroke-width="0.35">5</text>
<text x="500.53" y="381.62" font-size="10.2" textLength="7" lengthAdjust="spacingAndGlyphs" stroke-width="0.35">6</text>
<text x="527.7" y="380.9" font-size="10.2" stroke-width="0.35">7</text>
<text x="380.64" y="394.44" font-size="14" textLength="58.8" lengthAdjust="spacing" stroke-width="0.2">Pressure</text>
<text x="453.09" y="394.69" font-size="13.78" textLength="40.8" lengthAdjust="spacing" stroke-width="0.2">(GPa)</text>
<text x="415.32" y="420.07" font-size="14.38" textLength="17.6" lengthAdjust="spacing" font-family='"Liberation Serif", serif' stroke-width="0.2">(<tspan font-weight="bold">b</tspan>)</text>
<text x="306.26" y="248.26" font-size="14.5" textLength="45" lengthAdjust="spacing" transform="rotate(-90 306.26 248.26)" stroke-width="0.2">Energy</text>
<text x="306.67" y="188.53" font-size="14.5" textLength="27.5" lengthAdjust="spacing" transform="rotate(-90 306.67 188.53)" stroke-width="0.2">(eV)</text>
<text x="470.43" y="344.1" font-size="15.61" textLength="49" lengthAdjust="spacingAndGlyphs" stroke-width="0.2">&#947;-InSe</text>
<text x="399.35" y="318.42" font-size="14" textLength="8" lengthAdjust="spacingAndGlyphs" stroke-width="0.2">A</text>
<text x="397.45" y="148.26" font-size="14.77" textLength="10.2" lengthAdjust="spacingAndGlyphs" stroke-width="0.2">C</text>
<text x="399.2" y="219.19" font-size="14.44" textLength="9.4" lengthAdjust="spacingAndGlyphs" stroke-width="0.2">E</text>
<path d="M409.3,220.3 L410.95,219.1 L410.95,223.2" fill="none" stroke="#000" stroke-width="1.15" stroke-linejoin="miter"/>
<text x="396.77" y="54.2" font-size="14.44" textLength="8.9" lengthAdjust="spacingAndGlyphs" stroke-width="0.2">E</text>
<path d="M406.9,55.1 L408.45,53.9 L408.45,58.2" fill="none" stroke="#000" stroke-width="1.15" stroke-linejoin="miter"/>
<path d="M199.1,336.6 L200.4,336.6 L199.5,339.8 L198.9,339.8 Z" fill="#000" stroke="#000" stroke-width="0.6" stroke-linejoin="round"/>
<path d="M238.5,22.8 L239.6,22.8 L238.9,26.3 L238.3,26.3 Z" fill="#000" stroke="#000" stroke-width="0.6" stroke-linejoin="round"/>
<path d="M411.9,45.1 L413.2,45.1 L412.3,47.8 L411.7,47.8 Z" fill="#000" stroke="#000" stroke-width="0.6" stroke-linejoin="round"/>
</svg>
</body></html>
